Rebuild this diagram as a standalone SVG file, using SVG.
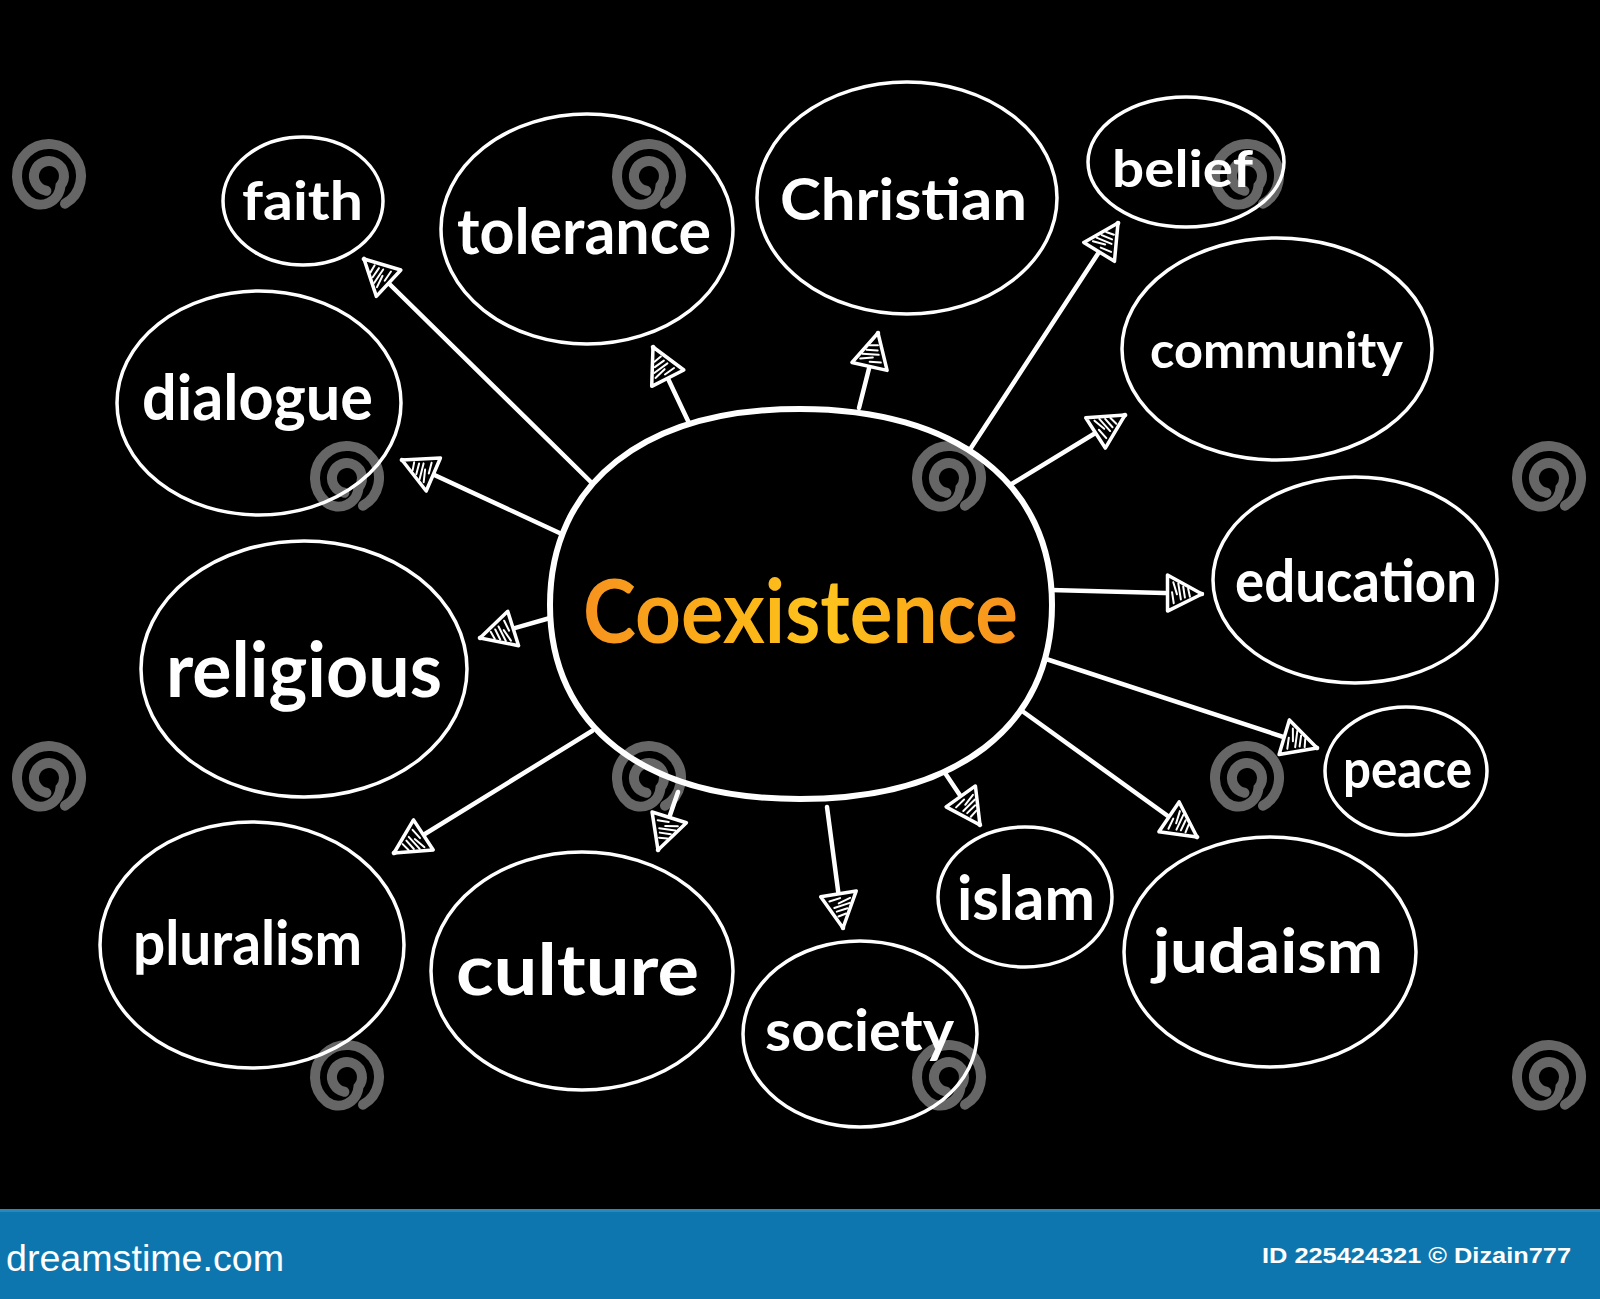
<svg xmlns="http://www.w3.org/2000/svg" width="1600" height="1299" viewBox="0 0 1600 1299">
<defs>
<style>
.node{fill:#000;stroke:#fff;stroke-width:3.5}
.lbl{fill:#fff;font-family:Lato,"Open Sans","Liberation Sans",sans-serif;font-weight:700}
.conn{stroke:#fff;stroke-width:4.5;fill:none;stroke-linecap:round;marker-end:url(#ah)}
.wm{fill:none;stroke:#fff;stroke-opacity:0.4;stroke-width:10;stroke-linecap:round}
</style>
<marker id="ah" markerUnits="userSpaceOnUse" markerWidth="50" markerHeight="50" refX="45" refY="25" orient="auto" overflow="visible">
<path d="M45,25 L10,7 L11,43 Z" fill="#000" stroke="#fff" stroke-width="3.5" stroke-linejoin="round"/>
<path d="M16,14 L20,26 M21,15 L24,31 M26,18 L28,29 M31,20 L33,28 M15,24 L17,35" stroke="#fff" stroke-width="2" fill="none" stroke-linecap="round"/>
</marker>
<linearGradient id="og" gradientUnits="userSpaceOnUse" x1="583" y1="0" x2="1018" y2="0">
<stop offset="0" stop-color="#f7921e"/>
<stop offset="0.35" stop-color="#fbb317"/>
<stop offset="0.55" stop-color="#fec41f"/>
<stop offset="0.75" stop-color="#fbae18"/>
<stop offset="1" stop-color="#f7901e"/>
</linearGradient>
<path id="sp" d="M16,27.7 A32 32 0 1 0 -20.6,24.5 A20 20 0 0 0 11.5,9.6 A15 15 0 1 0 -2.6,14.8"/>
</defs>
<rect width="1600" height="1299" fill="#000"/>

<g id="connectors">
<line class="conn" x1="597" y1="488" x2="364" y2="259"/>
<line class="conn" x1="566" y1="536" x2="402" y2="460"/>
<line class="conn" x1="550" y1="618" x2="480" y2="638"/>
<line class="conn" x1="592" y1="731" x2="394" y2="853"/>
<line class="conn" x1="678" y1="792" x2="658" y2="850"/>
<line class="conn" x1="827" y1="807" x2="843" y2="928"/>
<line class="conn" x1="943" y1="770" x2="980" y2="825"/>
<line class="conn" x1="1018" y1="708" x2="1197" y2="837"/>
<line class="conn" x1="1040" y1="657" x2="1317" y2="748"/>
<line class="conn" x1="1051" y1="590" x2="1202" y2="594"/>
<line class="conn" x1="1010" y1="485" x2="1125" y2="415"/>
<line class="conn" x1="969" y1="451" x2="1118" y2="223"/>
<line class="conn" x1="859" y1="408" x2="878" y2="333"/>
<line class="conn" x1="689" y1="423" x2="653" y2="347"/>
</g>

<g id="center">
<path d="M550,605 C550,483 644,409 800,409 C956,409 1052,483 1052,605 C1052,727 956,799 800,799 C644,799 550,727 550,605 Z" fill="#000" stroke="#fff" stroke-width="6"/>
<text x="583" y="643" font-family="Lato,'Open Sans','Liberation Sans',sans-serif" font-weight="700" font-size="88" fill="url(#og)" textLength="435" lengthAdjust="spacingAndGlyphs">Coexistence</text>
</g>

<g id="faith"><ellipse class="node" cx="303" cy="201" rx="80" ry="64"/><text class="lbl" x="242" y="220" font-size="54" textLength="121" lengthAdjust="spacingAndGlyphs">faith</text></g>
<g id="tolerance"><ellipse class="node" cx="587" cy="229" rx="146" ry="115"/><text class="lbl" x="457" y="254" font-size="64" textLength="254" lengthAdjust="spacingAndGlyphs">tolerance</text></g>
<g id="christian"><ellipse class="node" cx="907" cy="198" rx="150" ry="116"/><text class="lbl" x="780" y="220" font-size="58" textLength="247" lengthAdjust="spacingAndGlyphs">Christian</text></g>
<g id="belief"><ellipse class="node" cx="1186" cy="162" rx="98" ry="65"/><text class="lbl" x="1112" y="187" font-size="52" textLength="141" lengthAdjust="spacingAndGlyphs">belief</text></g>
<g id="community"><ellipse class="node" cx="1277" cy="349" rx="155" ry="111"/><text class="lbl" x="1150" y="368" font-size="50" textLength="253" lengthAdjust="spacingAndGlyphs">community</text></g>
<g id="education"><ellipse class="node" cx="1355" cy="580" rx="142" ry="103"/><text class="lbl" x="1235" y="602" font-size="60" textLength="242" lengthAdjust="spacingAndGlyphs">education</text></g>
<g id="peace"><ellipse class="node" cx="1406" cy="771" rx="81" ry="64"/><text class="lbl" x="1343" y="788" font-size="54" textLength="129" lengthAdjust="spacingAndGlyphs">peace</text></g>
<g id="judaism"><ellipse class="node" cx="1270" cy="952" rx="146" ry="115"/><text class="lbl" x="1153" y="973" font-size="62" textLength="230" lengthAdjust="spacingAndGlyphs">judaism</text></g>
<g id="islam"><ellipse class="node" cx="1025" cy="897" rx="87" ry="70"/><text class="lbl" x="957" y="920" font-size="62" textLength="138" lengthAdjust="spacingAndGlyphs">islam</text></g>
<g id="society"><ellipse class="node" cx="860" cy="1034" rx="117" ry="93"/><text class="lbl" x="765" y="1051" font-size="58" textLength="189" lengthAdjust="spacingAndGlyphs">society</text></g>
<g id="culture"><ellipse class="node" cx="582" cy="971" rx="151" ry="119"/><text class="lbl" x="456" y="995" font-size="70" textLength="243" lengthAdjust="spacingAndGlyphs">culture</text></g>
<g id="pluralism"><ellipse class="node" cx="252" cy="945" rx="152" ry="123"/><text class="lbl" x="133" y="965" font-size="62" textLength="229" lengthAdjust="spacingAndGlyphs">pluralism</text></g>
<g id="religious"><ellipse class="node" cx="304" cy="669" rx="163" ry="128"/><text class="lbl" x="166" y="697" font-size="76" textLength="276" lengthAdjust="spacingAndGlyphs">religious</text></g>
<g id="dialogue"><ellipse class="node" cx="259" cy="403" rx="142" ry="112"/><text class="lbl" x="142" y="420" font-size="64" textLength="231" lengthAdjust="spacingAndGlyphs">dialogue</text></g>

<g id="watermark-spirals" class="wm">
<use href="#sp" x="49" y="176"/><use href="#sp" x="649" y="176"/><use href="#sp" x="1247" y="176"/>
<use href="#sp" x="347" y="478"/><use href="#sp" x="949" y="478"/><use href="#sp" x="1549" y="478"/>
<use href="#sp" x="49" y="778"/><use href="#sp" x="649" y="778"/><use href="#sp" x="1247" y="778"/>
<use href="#sp" x="347" y="1077"/><use href="#sp" x="949" y="1077"/><use href="#sp" x="1549" y="1077"/>
</g>

<g id="footer">
<rect x="0" y="1209" width="1600" height="90" fill="#0e76ae"/>
<rect x="0" y="1209" width="1600" height="3" fill="#2a88bd"/>
<text x="6" y="1271" font-family="'Liberation Sans',sans-serif" font-size="36" fill="#fff" textLength="278" lengthAdjust="spacingAndGlyphs">dreamstime.com</text>
<text x="1262" y="1263" font-family="'Liberation Sans',sans-serif" font-weight="700" font-size="22" fill="#fff" textLength="309" lengthAdjust="spacingAndGlyphs">ID 225424321 © Dizain777</text>
</g>
</svg>
